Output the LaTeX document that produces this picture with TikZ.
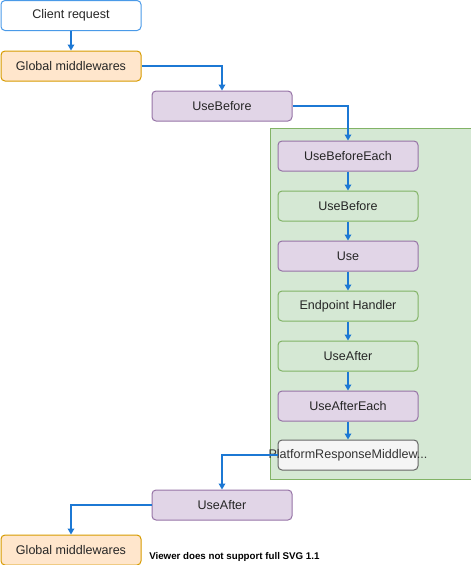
\documentclass[tikz,border=0pt]{standalone}
\usepackage{fontspec}
\setmainfont{Liberation Sans}
\usetikzlibrary{arrows.meta}
\definecolor{reqline}{HTML}{4A9AE8}
\definecolor{flow}{HTML}{1C78D4}
\definecolor{globfill}{HTML}{FFE6CC}
\definecolor{globline}{HTML}{D79B00}
\definecolor{midfill}{HTML}{E1D5E7}
\definecolor{midline}{HTML}{9673A6}
\definecolor{stagefill}{HTML}{D5E8D4}
\definecolor{stageline}{HTML}{82B366}
\definecolor{platfill}{HTML}{F5F5F5}
\definecolor{platline}{HTML}{666666}
\begin{document}
\begin{tikzpicture}[x=0.75pt,y=-0.75pt,
    box/.style={draw,rounded corners=3pt,minimum width=105pt,minimum height=22.5pt,inner sep=0pt,font=\fontsize{9.4}{11}\selectfont,text=black!85,line width=0.75pt},
    request/.style={box,draw=reqline,fill=white},
    global/.style={box,draw=globline,fill=globfill},
    mware/.style={box,draw=midline,fill=midfill},
    stage/.style={box,draw=stageline,fill=stagefill},
    platform/.style={box,draw=platline,fill=platfill},
    flowline/.style={draw=flow,line width=0.9pt,-{Triangle[length=4.5pt,width=5pt]}}]
    \useasboundingbox (0,0) rectangle (471,565);
    \draw[stageline,fill=stagefill,line width=0.75pt] (270.5,128.5) rectangle (471,479);
    \node[request] (client) at (71,15.5) {Client request};
    \node[global] (globin) at (71,66) {Global middlewares};
    \node[mware] (before) at (222,106) {UseBefore};
    \node[mware] (beforeeach) at (348,156) {UseBeforeEach};
    \node[stage] (ebefore) at (348,206) {UseBefore};
    \node[mware] (use) at (348,256) {Use};
    \node[stage] (handler) at (348,306) {Endpoint Handler};
    \node[stage] (eafter) at (348,356) {UseAfter};
    \node[mware] (aftereach) at (348,406) {UseAfterEach};
    \node[platform,label={[font=\fontsize{9.4}{11}\selectfont,text=black!80]center:PlatformResponseMiddlew...}] (platform) at (348,455) {};
    \node[mware] (after) at (222,505) {UseAfter};
    \node[global] (globout) at (71,550) {Global middlewares};
    \node[anchor=west,inner sep=0pt,font=\fontsize{7.3}{9}\selectfont\bfseries] (viewer) at (149,557) {Viewer does not support full SVG 1.1};
    % connectors
    \draw[flowline] (client) -- (globin);
    \draw[flowline] (globin.east) -| (before.north);
    \draw[flowline] (before.east) -| (beforeeach.north);
    \draw[flowline] (beforeeach) -- (ebefore);
    \draw[flowline] (ebefore) -- (use);
    \draw[flowline] (use) -- (handler);
    \draw[flowline] (handler) -- (eafter);
    \draw[flowline] (eafter) -- (aftereach);
    \draw[flowline] (aftereach) -- (platform);
    \draw[flowline] (platform.west) -| (after.north);
    \draw[flowline] (after.west) -| (globout.north);
\end{tikzpicture}
\end{document}
